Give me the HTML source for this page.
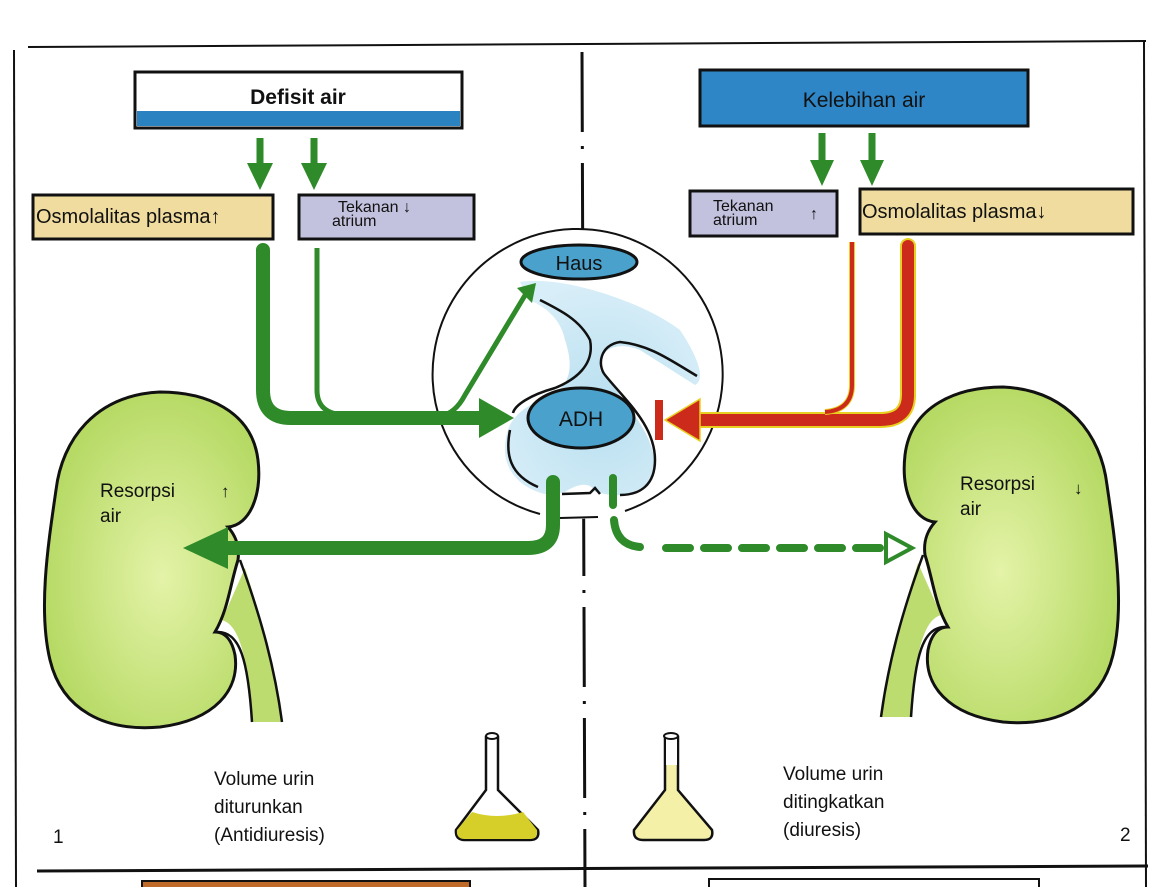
<!DOCTYPE html>
<html><head><meta charset="utf-8"><style>
html,body{margin:0;padding:0;background:#fff}
svg{display:block}
text{font-family:"Liberation Sans",sans-serif;fill:#111}
</style></head><body>
<svg width="1162" height="887" viewBox="0 0 1162 887" xmlns="http://www.w3.org/2000/svg">
<defs>
<radialGradient id="kg" cx="0.55" cy="0.55" r="0.6">
<stop offset="0" stop-color="#e4f3a8"/><stop offset="1" stop-color="#b3d860"/>
</radialGradient>
<radialGradient id="pg" cx="0.5" cy="0.6" r="0.6">
<stop offset="0" stop-color="#b8dff0"/><stop offset="1" stop-color="#d8eef8"/>
</radialGradient>
</defs>
<rect width="1162" height="887" fill="#fff"/>
<!-- frame -->
<line x1="28" y1="47" x2="1146" y2="41" stroke="#111" stroke-width="2"/>
<line x1="14" y1="50" x2="16" y2="887" stroke="#111" stroke-width="2"/>
<line x1="1144" y1="41" x2="1146" y2="887" stroke="#111" stroke-width="2"/>
<line x1="37" y1="871" x2="1148" y2="866" stroke="#111" stroke-width="3"/>
<line x1="582" y1="52" x2="585" y2="887" stroke="#111" stroke-width="3" stroke-dasharray="80,14,3,14"/>
<!-- bottom boxes -->
<rect x="142" y="881" width="328" height="10" fill="#c06a2a" stroke="#111" stroke-width="2"/>
<rect x="709" y="879" width="330" height="12" fill="#fff" stroke="#111" stroke-width="2"/>

<!-- top boxes -->
<rect x="135" y="72" width="327" height="56" fill="#fff" stroke="#111" stroke-width="3"/>
<rect x="137" y="111" width="323" height="15" fill="#2a82c0"/>
<text x="298" y="104" font-size="21" font-weight="bold" text-anchor="middle">Defisit air</text>
<rect x="700" y="70" width="328" height="56" fill="#2f86c6" stroke="#111" stroke-width="3"/>
<text x="864" y="107" font-size="21" text-anchor="middle">Kelebihan air</text>

<!-- down arrows -->
<g fill="#2f8a2a" stroke="#2f8a2a">
<line x1="260" y1="138" x2="260" y2="165" stroke-width="7"/><polygon points="247,163 273,163 260,190" stroke="none"/>
<line x1="314" y1="138" x2="314" y2="165" stroke-width="7"/><polygon points="301,163 327,163 314,190" stroke="none"/>
<line x1="822" y1="133" x2="822" y2="162" stroke-width="7"/><polygon points="810,160 834,160 822,186" stroke="none"/>
<line x1="872" y1="133" x2="872" y2="162" stroke-width="7"/><polygon points="860,160 884,160 872,186" stroke="none"/>
</g>

<!-- middle boxes -->
<rect x="33" y="195" width="240" height="44" fill="#f0dc9e" stroke="#111" stroke-width="3"/>
<text x="36" y="223" font-size="20">Osmolalitas plasma↑</text>
<rect x="299" y="195" width="175" height="44" fill="#c2c2de" stroke="#111" stroke-width="3"/>
<text x="338" y="212" font-size="16">Tekanan ↓</text>
<text x="332" y="226" font-size="16">atrium</text>
<rect x="690" y="191" width="147" height="45" fill="#c2c2de" stroke="#111" stroke-width="3"/>
<text x="713" y="211" font-size="16">Tekanan</text>
<text x="713" y="225" font-size="16">atrium</text>
<text x="810" y="219" font-size="16">↑</text>
<rect x="860" y="189" width="273" height="45" fill="#f0dc9e" stroke="#111" stroke-width="3"/>
<text x="862" y="218" font-size="20">Osmolalitas plasma↓</text>

<!-- circle & pituitary -->
<circle cx="577" cy="374" r="145" fill="#fff"/>
<path d="M540,514 A145,145 0 1 1 625,511" fill="none" stroke="#111" stroke-width="2"/>
<path d="M520,282 C560,275 640,300 680,330 C700,360 705,380 695,385 L640,350 C615,340 598,350 600,370 C640,420 655,440 655,470 C650,490 625,497 610,495 L595,492 C590,480 575,485 565,492 L550,495 C520,490 505,470 505,450 C505,420 520,410 540,400 C570,390 575,370 565,340 C560,315 540,305 530,300 Z" fill="url(#pg)"/>
<path d="M540,300 C560,310 580,320 590,340 C595,365 575,380 555,388 C530,395 515,405 513,413" fill="none" stroke="#111" stroke-width="2.5"/>
<path d="M697,376 C670,360 650,345 620,342 C600,345 597,365 605,375 C625,400 655,425 655,460 C655,485 640,495 620,495" fill="none" stroke="#111" stroke-width="2.5"/>
<path d="M510,430 C505,455 510,475 538,487" fill="none" stroke="#111" stroke-width="2.5"/>
<path d="M562,494 L590,493 L595,488 L600,494" fill="none" stroke="#111" stroke-width="2.5"/>
<path d="M560,518 L598,517" fill="none" stroke="#111" stroke-width="2"/>
<ellipse cx="579" cy="262" rx="58" ry="17" fill="#4aa2cc" stroke="#111" stroke-width="3"/>
<text x="579" y="270" font-size="20" text-anchor="middle">Haus</text>
<ellipse cx="581" cy="418" rx="53" ry="30" fill="#4aa2cc" stroke="#111" stroke-width="3"/>
<text x="581" y="426" font-size="21" text-anchor="middle">ADH</text>

<!-- green paths to ADH -->
<path d="M263,250 L263,390 Q263,418 291,418 L480,418" fill="none" stroke="#2f8a2a" stroke-width="14" stroke-linecap="round"/>
<polygon points="479,398 514,418 479,438" fill="#2f8a2a"/>
<path d="M317,248 L317,390 Q317,414 345,415" fill="none" stroke="#2f8a2a" stroke-width="5"/>
<path d="M440,416 Q455,414 465,395 L527,292" fill="none" stroke="#2f8a2a" stroke-width="5"/>
<polygon points="517,288 536,283 532,303" fill="#2f8a2a"/>

<!-- red paths -->
<path d="M908,246 L908,395 Q908,420 880,420 L698,420" fill="none" stroke="#e8d020" stroke-width="16" stroke-linecap="round"/>
<path d="M908,246 L908,395 Q908,420 880,420 L698,420" fill="none" stroke="#cc2a1a" stroke-width="12" stroke-linecap="round"/>
<path d="M852,242 L852,385 Q852,410 825,412" fill="none" stroke="#e8d020" stroke-width="6"/>
<path d="M852,242 L852,385 Q852,410 825,412" fill="none" stroke="#cc2a1a" stroke-width="4"/>
<polygon points="700,399 665,420 700,441" fill="#cc2a1a" stroke="#e8d020" stroke-width="1.5"/>
<rect x="655" y="400" width="8" height="40" fill="#cc2a1a"/>

<!-- kidneys -->
<g id="kid">
<path d="M222,620 C240,625 248,660 252,722 L282,722 C275,670 262,620 245,568 Z" fill="#bcdc70"/>
<path d="M228,527 C250,525 262,495 258,460 C252,410 205,392 160,392 C95,395 62,440 56,490 C48,545 38,610 50,660 C62,710 105,732 160,727 C215,720 240,690 235,655 C232,640 225,632 215,632 C228,610 230,585 238,560 C240,545 235,535 228,527 Z" fill="url(#kg)" stroke="#111" stroke-width="3"/>
<path d="M240,560 C262,620 275,670 282,722" fill="none" stroke="#111" stroke-width="2.5"/>
<path d="M218,632 C240,632 248,660 252,722" fill="none" stroke="#111" stroke-width="2.5"/>
</g>
<use href="#kid" transform="translate(1163,-5) scale(-1,1)"/>
<text x="100" y="497" font-size="19">Resorpsi</text>
<text x="221" y="497" font-size="17">↑</text>
<text x="100" y="522" font-size="19">air</text>
<text x="960" y="490" font-size="19">Resorpsi</text>
<text x="1074" y="494" font-size="17">↓</text>
<text x="960" y="515" font-size="19">air</text>

<!-- ADH outputs -->
<path d="M553,482 L553,525 Q553,548 528,548 L228,548" fill="none" stroke="#2f8a2a" stroke-width="14" stroke-linecap="round"/>
<polygon points="228,527 183,548 228,569" fill="#2f8a2a"/>
<path d="M613,478 L613,505" stroke="#2f8a2a" stroke-width="8" stroke-linecap="round"/>
<path d="M614,520 Q616,545 640,547" fill="none" stroke="#2f8a2a" stroke-width="8" stroke-linecap="round"/>
<line x1="666" y1="548" x2="880" y2="548" stroke="#2f8a2a" stroke-width="8" stroke-dasharray="24,14" stroke-linecap="round"/>
<polygon points="886,534 912,548 886,562" fill="#fff" stroke="#2f8a2a" stroke-width="4"/>

<!-- flasks -->
<path d="M486,737 L486,790 L456,830 Q455,840 465,840 L530,840 Q540,840 538,830 L498,790 L498,737 Z" fill="#fff" stroke="#111" stroke-width="2.5"/>
<path d="M472,812 Q497,820 523,812 L537,830 Q538,839 530,839 L465,839 Q456,839 457,830 Z" fill="#d6cf2a"/>
<ellipse cx="492" cy="736" rx="6" ry="3" fill="#fff" stroke="#111" stroke-width="2"/>
<path d="M665,737 L665,790 L634,830 Q633,840 643,840 L704,840 Q714,840 712,830 L678,790 L678,737 Z" fill="#f4f0a8" stroke="#111" stroke-width="2.5"/>
<path d="M666,738 L666,765 L677,765 L677,738 Z" fill="#fff"/>
<ellipse cx="671" cy="736" rx="7" ry="3" fill="#fff" stroke="#111" stroke-width="2"/>

<!-- captions -->
<text x="214" y="785" font-size="19">Volume urin</text>
<text x="214" y="813" font-size="19">diturunkan</text>
<text x="214" y="841" font-size="19">(Antidiuresis)</text>
<text x="783" y="780" font-size="19">Volume urin</text>
<text x="783" y="808" font-size="19">ditingkatkan</text>
<text x="783" y="836" font-size="19">(diuresis)</text>
<text x="53" y="843" font-size="19">1</text>
<text x="1120" y="841" font-size="19">2</text>
</svg>
</body></html>
